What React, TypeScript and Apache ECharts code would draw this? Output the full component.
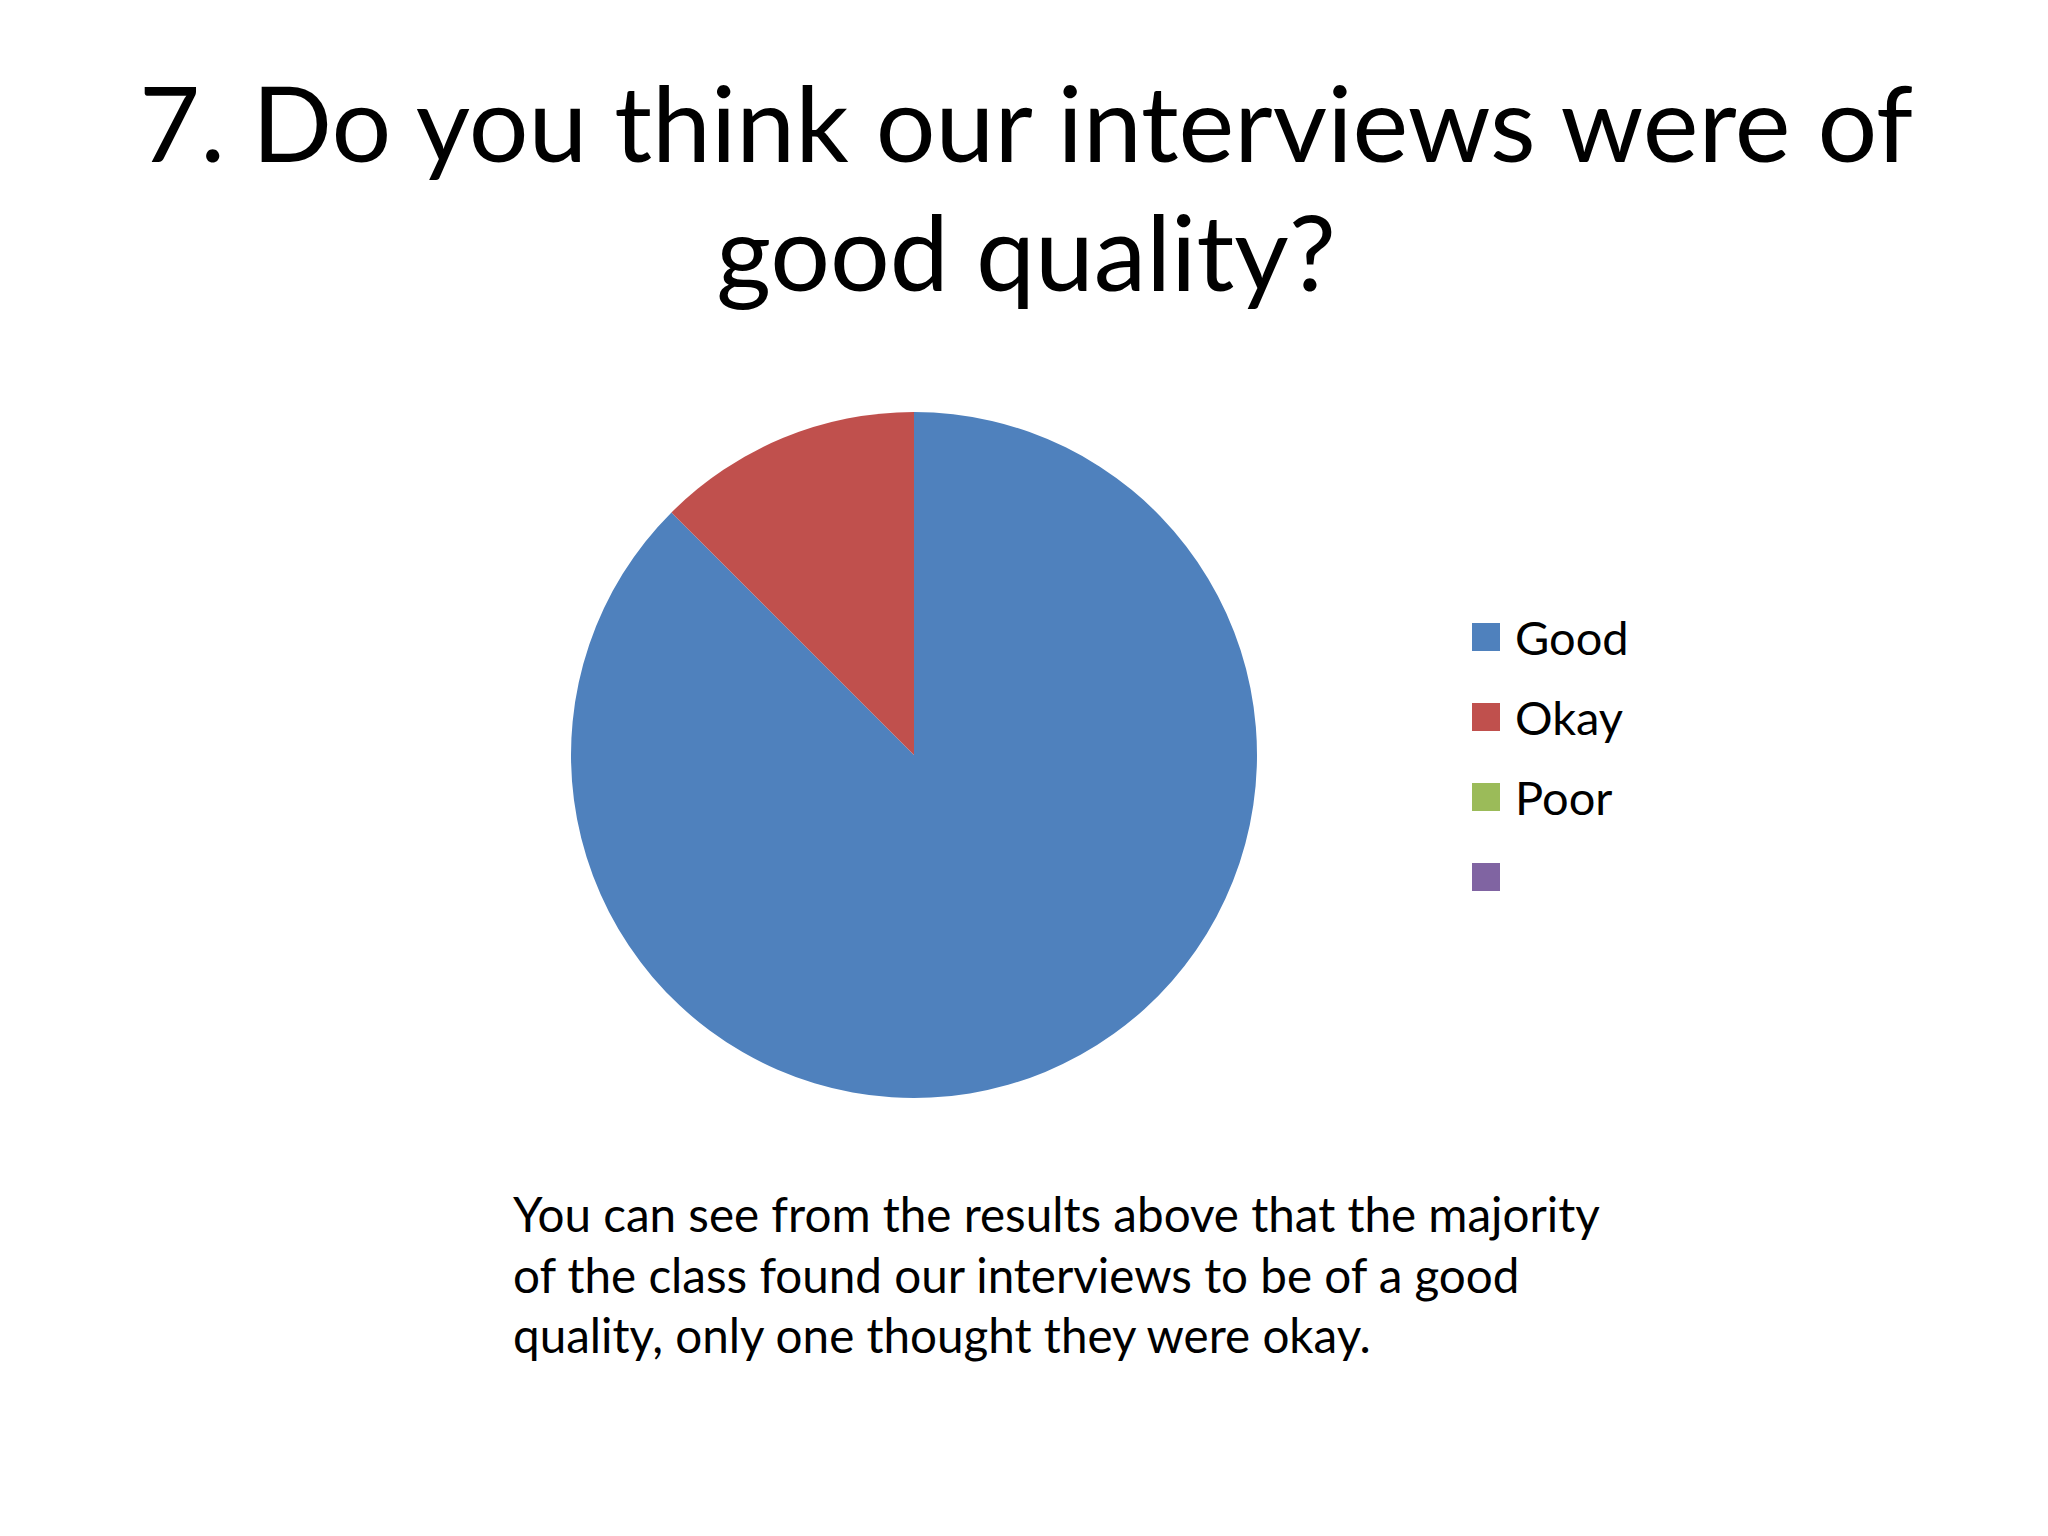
import React, { useEffect, useRef } from "react";
import * as echarts from "echarts";

const categories = ["Good", "Okay", "Poor", " "];
const values = [7, 1, 0, 0];
const colors = ["#4F81BD", "#C0504D", "#9BBB59", "#8064A2"];
const titleLines = ["7. Do you think our interviews were of", "good quality?"];
const bodyLines = [
  "You can see from the results above that the majority",
  "of the class found our interviews to be of a good",
  "quality, only one thought they were okay.",
];

const FONT = "Lato";

export default function App() {
  const ref = useRef<HTMLDivElement>(null);

  useEffect(() => {
    if (!ref.current) return;
    const chart = echarts.init(ref.current, null, { renderer: "svg" });

    const titleY = [120.5, 249.5];
    const bodyY = [1213.5, 1274.5, 1334.5];

    const graphics: any[] = [];
    titleLines.forEach((t, i) => {
      graphics.push({
        type: "text",
        x: 1026,
        y: titleY[i],
        silent: true,
        style: {
          text: t,
          fontFamily: FONT,
          fontSize: 105.5,
          fill: "#000000",
          align: "center",
          verticalAlign: "middle",
        },
      });
    });
    bodyLines.forEach((t, i) => {
      graphics.push({
        type: "text",
        x: 513,
        y: bodyY[i],
        silent: true,
        style: {
          text: t,
          fontFamily: FONT,
          fontSize: 47.6,
          fill: "#000000",
          align: "left",
          verticalAlign: "middle",
        },
      });
    });

    chart.setOption({
      animation: false,
      backgroundColor: "#ffffff",
      color: colors,
      legend: {
        data: categories,
        orient: "vertical",
        left: 1472,
        top: 613.5,
        padding: 0,
        itemWidth: 28,
        itemHeight: 28,
        itemGap: 33,
        icon: "rect",
        selectedMode: false,
        textStyle: {
          fontFamily: FONT,
          fontSize: 47,
          lineHeight: 47,
          color: "#000000",
          padding: [0, 0, 0, 10],
        },
      },
      series: [
        {
          type: "pie",
          center: [914, 755],
          radius: 343,
          startAngle: 90,
          clockwise: true,
          silent: true,
          label: { show: false },
          labelLine: { show: false },
          itemStyle: { borderWidth: 0 },
          emphasis: { disabled: true },
          data: categories.map((c, i) => ({ name: c, value: values[i] })),
        },
      ],
      graphic: graphics,
    });

    return () => chart.dispose();
  }, []);

  return (
    <div
      ref={ref}
      style={{ position: "absolute", left: 0, top: 0, width: 2048, height: 1536, background: "#fff" }}
    />
  );
}
